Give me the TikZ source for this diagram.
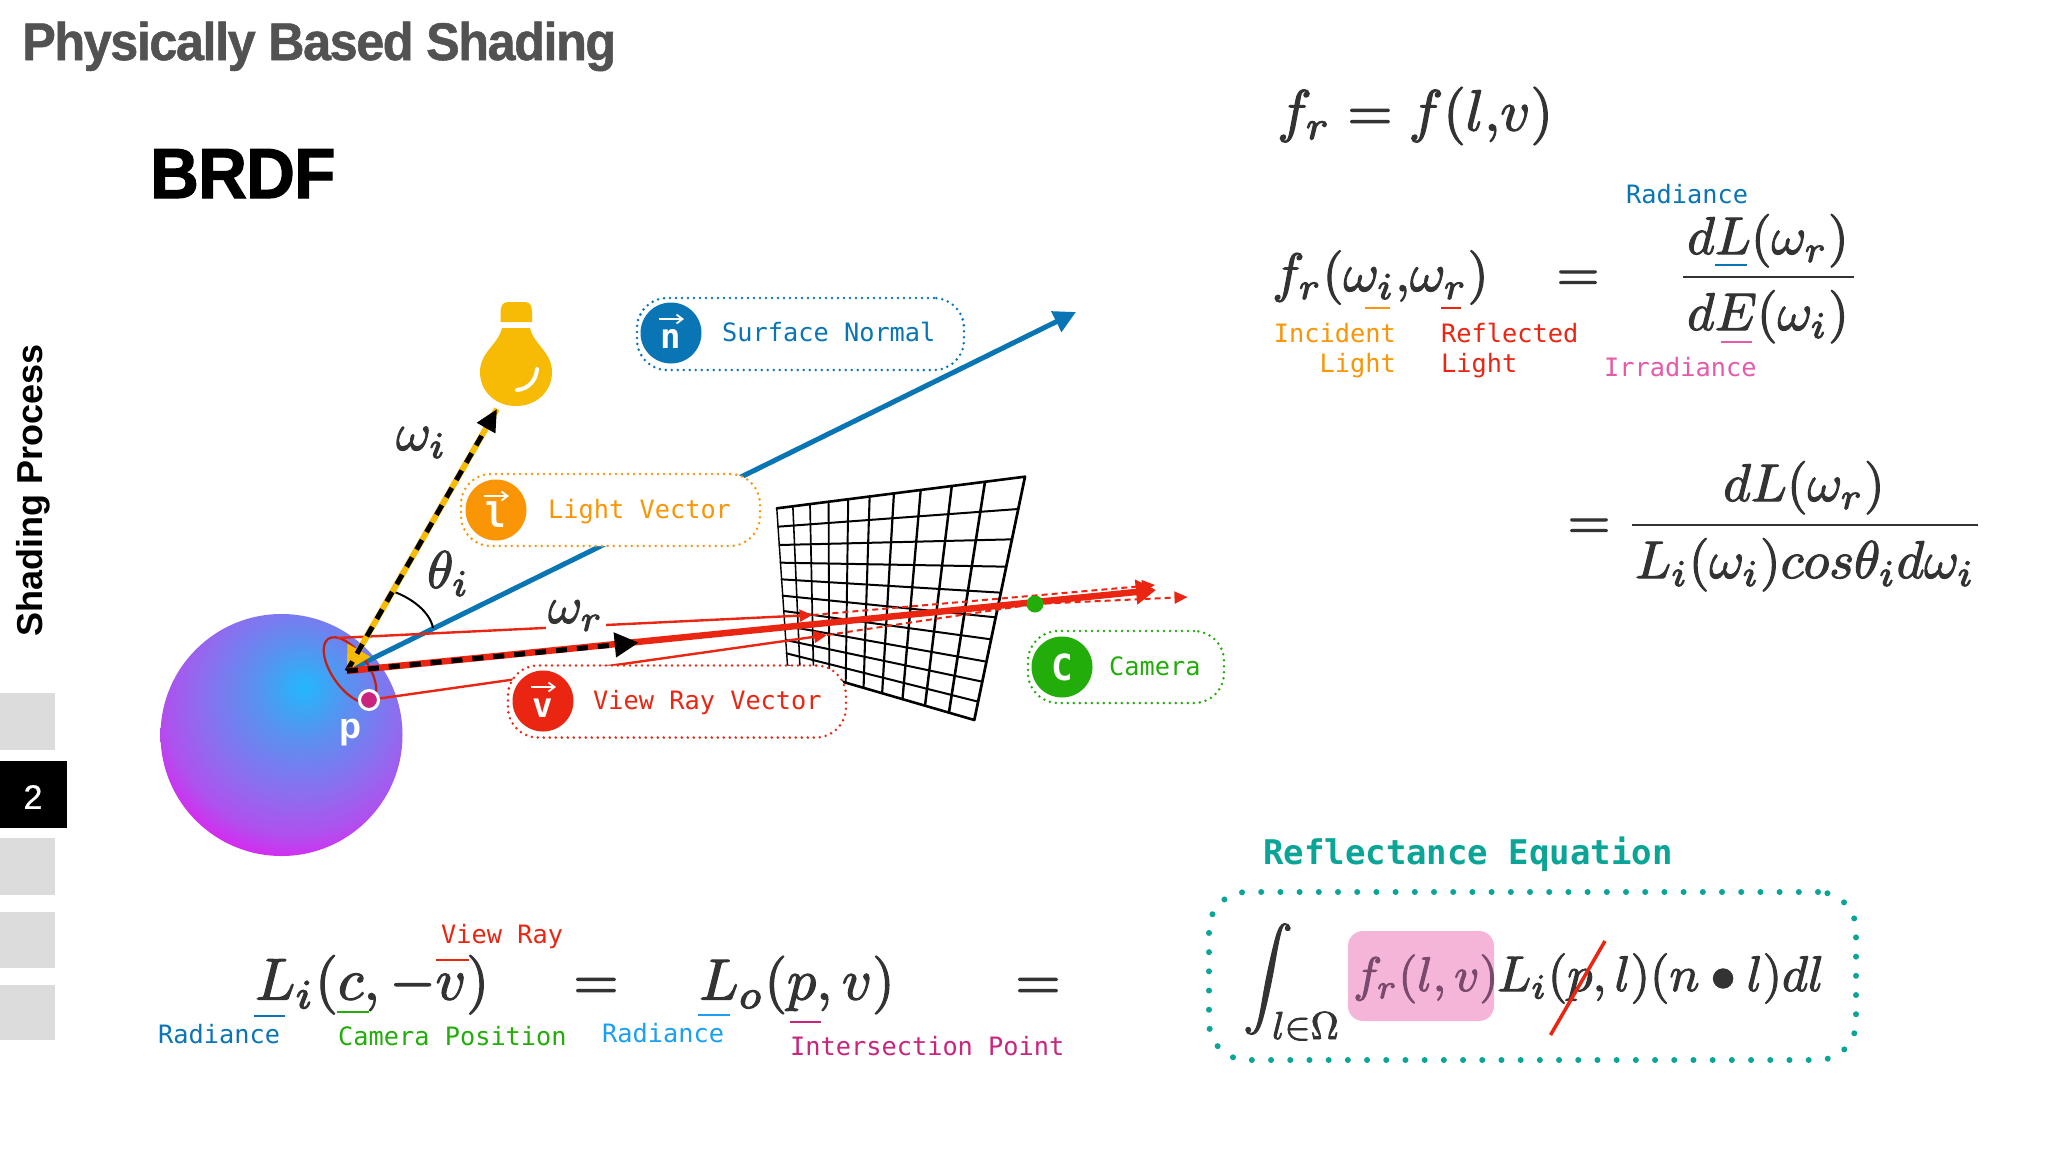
\documentclass[tikz,border=0pt]{standalone}
\usepackage{fontspec}
\usepackage{graphicx}
\usetikzlibrary{arrows.meta,calc}
\newfontfamily\monof{DejaVu Sans Mono}
\newfontfamily\headf[FakeStretch=0.95,LetterSpace=-2.7,BoldFeatures={FakeBold=1.0}]{Liberation Sans}
\newfontfamily\brdff[FakeStretch=0.95,LetterSpace=-1,BoldFeatures={FakeBold=1.6}]{Liberation Sans}
\newfontfamily\sidef{Liberation Sans}
\definecolor{cblue}{HTML}{0A75B5}
\definecolor{cblueb}{HTML}{1AA0F0}
\definecolor{corange}{HTML}{FA9505}
\definecolor{cred}{HTML}{EA2512}
\definecolor{cgreen}{HTML}{22AD0A}
\definecolor{cmag}{HTML}{C9257F}
\definecolor{cpink}{HTML}{E65AA8}
\definecolor{cteal}{HTML}{0AA596}
\definecolor{cyellow}{HTML}{F7BB05}
\definecolor{cmath}{HTML}{333333}
\definecolor{cside}{HTML}{DCDCDC}
\definecolor{cfrr}{HTML}{7A4A6E}
\definecolor{bA}{HTML}{22B8FA}
\definecolor{bB}{HTML}{5B90F0}
\definecolor{bC}{HTML}{8F6CEE}
\definecolor{bD}{HTML}{B050EE}
\definecolor{bE}{HTML}{E020F0}
\pgfdeclareradialshading{ballsh}{\pgfpoint{4.65bp}{10.1bp}}{color(0bp)=(bA); color(10bp)=(bB); color(21bp)=(bC); color(28bp)=(bD); color(34bp)=(bE); color(100bp)=(bE)}
\newcommand{\mth}[2]{\scalebox{#1}{\special{pdf:code 2 Tr 0.2 w}$\displaystyle #2$\special{pdf:code 0 Tr}}}
\tikzset{
  lbl/.style={inner sep=0pt,anchor=base west,font=\monof\fontsize{25.3}{30}\selectfont},
  mnode/.style={inner sep=0pt,anchor=base west,text=cmath},
  mcen/.style={inner sep=0pt,anchor=base,text=cmath},
  pillbox/.style={draw=#1,fill=white,rounded corners=30pt,line width=2.8pt,line cap=round,dash pattern=on 0pt off 6pt,inner sep=0pt,minimum height=72pt},
  badge/.style={circle,fill=#1,inner sep=0pt,minimum size=61pt,text=white,font=\monof\bfseries\fontsize{34}{36}\selectfont},
  ul/.style={draw=#1,line width=2.4pt},
  sidebox/.style={fill=cside,inner sep=0pt,anchor=north west,minimum width=55pt},
  barline/.style={draw=cmath,line width=2.6pt},
  vecarrow/.style={draw=white,line width=1.8pt,-{Straight Barb[length=6pt,width=9pt]}},
  gridline/.style={draw=black,line width=#1}
}
\begin{document}
\begin{tikzpicture}[x=1pt,y=-1pt]
\useasboundingbox (0,0) rectangle (2048,1152);
\fill[white] (0,0) rectangle (2048,1152);

% titles
\node[inner sep=0pt,anchor=base west,text=black!68] (title) at (22,60) {\headf\bfseries\fontsize{53}{60}\selectfont Physically Based Shading};
\node[inner sep=0pt,anchor=base west,text=black] (brdf) at (150,198) {\brdff\bfseries\fontsize{71}{80}\selectfont BRDF};
\node[inner sep=0pt,rotate=90,text=black] (side) at (33,490) {\sidef\bfseries\fontsize{36}{40}\selectfont Shading Process};

% sidebar
\node[sidebox,minimum height=57pt] (s1) at (0,693) {};
\node[fill=black,inner sep=0pt,anchor=north west,minimum width=67pt,minimum height=67pt] (s2) at (0,761) {};
\node[inner sep=0pt,text=white,font=\sidef\addfontfeatures{FakeBold=0.6}\fontsize{34}{40}\selectfont] (s2t) at (33,797) {2};
\node[sidebox,minimum height=57pt] (s3) at (0,838) {};
\node[sidebox,minimum height=56pt] (s4) at (0,912) {};
\node[sidebox,minimum height=55pt] (s5) at (0,985) {};

% sphere
\shade[shading=ballsh] (281.5,735) circle [radius=121pt];

% named points
\coordinate (P) at (347,671);
\coordinate (LT) at (497,409);
\coordinate (NT) at (1076,312);
\coordinate (D) at (1035,604);
\coordinate (VT) at (1156,590);
\coordinate (VB) at ($(P)!0.424!(D)$);
\coordinate (C) at (350,670);
\coordinate (Pt) at (369,700);
\coordinate (Ct) at (337,638);
\coordinate (A1) at (812.5,615);
\coordinate (A2) at (827,635);
\coordinate (E1) at (1155,585);
\coordinate (E2) at (1187.5,597);

% grid
\foreach \t/\b [count=\i] in {215/245,260/280,308/318,360/362,415/408,475/458,543/510,618/567,705/630,798/697,910/768}{
  \pgfmathsetmacro{\xa}{700+\t/2.8}
  \pgfmathsetmacro{\ya}{280+(685-0.13669*(\t-215))/3}
  \pgfmathsetmacro{\xb}{700+\b/2.8}
  \pgfmathsetmacro{\yb}{280+(1157+0.31166*(\b-245))/3}
  \pgfmathsetmacro{\lw}{1.3+0.13*\i}
  \draw[gridline=\lw pt,line cap=round] (\xa,\ya) -- (\xb,\yb);
}
\foreach \l/\r [count=\i] in {685/590,740/687,795/778,848/860,898/938,947/1012,993/1078,1037/1145,1080/1205,1120/1265,1157/1320}{
  \pgfmathsetmacro{\xa}{700+(215+0.06237*(\l-685))/2.8}
  \pgfmathsetmacro{\ya}{280+\l/3}
  \pgfmathsetmacro{\xb}{700+(910-0.19452*(\r-590))/2.8}
  \pgfmathsetmacro{\yb}{280+\r/3}
  \pgfmathsetmacro{\lw}{ifthenelse(\i==1 || \i==11,2.6,2.0)}
  \draw[gridline=\lw pt,line cap=round] (\xa,\ya) -- (\xb,\yb);
}

% surface normal pill, then normal vector
\node[pillbox=cblue,minimum width=327pt] (pn) at (800.5,334) {};
\draw[draw=cblue,line width=5pt,-{Triangle[length=22pt,width=22pt]}] (P) -- (NT);

% thin rays
\draw[draw=cred!85!black,line width=2.2pt,rotate around={-55:(C)}] (C) ellipse [x radius=38pt,y radius=18pt];
\draw[draw=cred,line width=2.4pt,-{Triangle[length=13pt,width=12pt]}] (Ct) -- (A1);
\draw[draw=cred,line width=2.4pt,-{Triangle[length=13pt,width=12pt]}] (Pt) -- (A2);
\draw[draw=cred,line width=2pt,dash pattern=on 6pt off 4pt,-{Triangle[length=13pt,width=12pt]}] (A1) -- (E1);
\draw[draw=cred,line width=2pt,dash pattern=on 6pt off 4pt,-{Triangle[length=13pt,width=12pt]}] (A2) -- (D) -- (E2);

% light pill
\node[pillbox=corange,minimum width=299pt] (pl) at (610.5,510) {};

% theta arc
\coordinate (tha) at (392,591);
\coordinate (thb) at (433,628);
\draw[draw=black,line width=2pt] (tha) .. controls (412,598) and (430,612) .. (thb);

% light vector
\draw[draw=cyellow,line width=6pt,{Triangle[length=24pt,width=25pt]}-] (P) -- (LT);
\draw[draw=black,line width=5pt,dash pattern=on 11pt off 9pt,-{Triangle[length=22pt,width=20pt]}] (P) -- (LT);

% view vector
\draw[draw=cred,line width=6.5pt,-{Triangle[length=20pt,width=24pt]}] (P) -- (VT);
\draw[draw=black,line width=5pt,dash pattern=on 11pt off 10pt,-{Triangle[length=24pt,width=24pt]}] (P) -- (VB);
\node[circle,fill=cgreen,inner sep=0pt,minimum size=17pt] (dot) at (D) {};

% view and camera pills
\node[pillbox=cred,minimum width=338pt] (pv) at (677,701.5) {};
\node[pillbox=cgreen,minimum width=196pt] (pc) at (1126,667) {};

% badges
\node[badge=cblue] (bn) at (671,333) {};
\node[inner sep=0pt,anchor=base,text=white,font=\monof\bfseries\fontsize{34}{36}\selectfont] (bnt) at (671,348) {n};
\coordinate (nL) at (659,319); \coordinate (nR) at (684,319);
\draw[vecarrow] (nL) -- (nR);
\node[badge=corange] (bl) at (496,510) {};
\node[inner sep=0pt,anchor=base,text=white,font=\monof\bfseries\fontsize{34}{36}\selectfont] (blt) at (496,527) {l};
\coordinate (lL) at (484,496); \coordinate (lR) at (509,496);
\draw[vecarrow] (lL) -- (lR);
\node[badge=cred] (bv) at (543,701) {};
\node[inner sep=0pt,anchor=base,text=white,font=\monof\bfseries\fontsize{34}{36}\selectfont] (bvt) at (543,717) {v};
\coordinate (vL) at (531,687); \coordinate (vR) at (556,687);
\draw[vecarrow] (vL) -- (vR);
\node[badge=cgreen] (bc) at (1062,667) {};
\node[inner sep=0pt,anchor=base,text=white,font=\monof\bfseries\fontsize{36}{38}\selectfont] (bct) at (1062,680) {C};

% pill labels
\node[lbl,text=cblue] (tn) at (722,341) {Surface Normal};
\node[lbl,text=corange] (tl) at (548,518) {Light Vector};
\node[lbl,text=cred] (tv) at (593,709) {View Ray Vector};
\node[lbl,text=cgreen] (tc) at (1109,675) {Camera};

% point p
\node[circle,fill=cmag,draw=white,line width=3pt,inner sep=0pt,minimum size=19pt] (pdot) at (Pt) {};
\node[inner sep=0pt,anchor=base,text=white,font=\sidef\bfseries\fontsize{36}{38}\selectfont] (pl2) at (350,738) {p};

% bulb
\fill[cyellow] (500.5,322) -- (500.5,312) .. controls (500.5,306) and (503,302) .. (508,302) -- (525,302) .. controls (530,302) and (532,306) .. (532,312) -- (532,322) -- cycle;
\fill[cyellow] (502,328) .. controls (498,345) and (480,352) .. (480,372) .. controls (480,392) and (496,406) .. (516,406) .. controls (536,406) and (552,392) .. (552,372) .. controls (552,352) and (534,345) .. (530,328) -- cycle;
\draw[draw=white,line width=4pt,line cap=round] (537,369) .. controls (536,381) and (528,389) .. (517,390);

% vector labels
\node[mnode] (wi) at (396,450) {\mth{5.3}{\omega_i}};
\node[mnode] (thi) at (427,588) {\mth{5.3}{\theta_i}};
\node[mnode,fill=white,inner sep=2pt] (wr) at (546,623) {\mth{5.2}{\omega_r}};

% upper right equations
\node[mnode] (e1) at (1277,130.5) {\mth{5.8}{f_r = f(l{,}v)}};
\node[mnode] (e2) at (1272,291) {\mth{5.4}{f_r(\omega_i{,}\omega_r)}};
\node[mcen] (eq2) at (1578,291) {\mth{5.5}{=}};
\node[mcen] (n1) at (1768,254) {\mth{5.3}{dL(\omega_r)}};
\node[mcen] (d1) at (1768,330) {\mth{5.3}{dE(\omega_i)}};
\coordinate (b1a) at (1683,277); \coordinate (b1b) at (1854,277);
\draw[barline] (b1a) -- (b1b);
\node[mcen] (eq3) at (1589,539) {\mth{5.5}{=}};
\node[mcen] (n2) at (1804,501) {\mth{5.3}{dL(\omega_r)}};
\node[mcen] (d2) at (1805,578) {\mth{5.3}{L_i(\omega_i)cos\theta_i d\omega_i}};
\coordinate (b2a) at (1631.5,525); \coordinate (b2b) at (1978,525);
\draw[barline] (b2a) -- (b2b);

\node[lbl,text=cblue] (r1) at (1626,203) {Radiance};
\node[lbl,text=corange,anchor=base east] (inc) at (1396,342) {Incident};
\node[lbl,text=corange,anchor=base east] (incl) at (1396,372) {Light};
\node[lbl,text=cred] (ref) at (1441,342) {Reflected};
\node[lbl,text=cred] (refl) at (1441,372) {Light};
\node[lbl,text=cpink] (irr) at (1604,376) {Irradiance};

\coordinate (u1a) at (1365,308); \coordinate (u1b) at (1390,308);
\coordinate (u2a) at (1441,308); \coordinate (u2b) at (1461,308);
\coordinate (u3a) at (1715,265); \coordinate (u3b) at (1747,265);
\coordinate (u4a) at (1721,342); \coordinate (u4b) at (1752,342);
\draw[ul=corange] (u1a) -- (u1b);
\draw[ul=cred] (u2a) -- (u2b);
\draw[ul=cblue] (u3a) -- (u3b);
\draw[ul=cpink] (u4a) -- (u4b);

% bottom equations
\node[mnode] (e3) at (255,999.5) {\mth{5.9}{L_i(c,-v)}};
\node[mcen] (eq4) at (596,999.5) {\mth{5.8}{=}};
\node[mnode] (e4) at (699,999.5) {\mth{5.8}{L_o(p,v)}};
\node[mcen] (eq5) at (1038,999.5) {\mth{5.8}{=}};
\coordinate (u5a) at (254,1016); \coordinate (u5b) at (285,1016);
\coordinate (u6a) at (337,1012); \coordinate (u6b) at (369,1012);
\coordinate (u7a) at (436,960); \coordinate (u7b) at (469,960);
\coordinate (u8a) at (698,1015); \coordinate (u8b) at (730,1015);
\coordinate (u9a) at (790,1022); \coordinate (u9b) at (821,1022);
\draw[ul=cblue] (u5a) -- (u5b);
\draw[ul=cgreen] (u6a) -- (u6b);
\draw[ul=cred] (u7a) -- (u7b);
\draw[ul=cblueb] (u8a) -- (u8b);
\draw[ul=cmag] (u9a) -- (u9b);
\node[lbl,text=cred] (vr) at (441,943) {View Ray};
\node[lbl,text=cblue] (r2) at (158,1043) {Radiance};
\node[lbl,text=cgreen] (cp) at (338,1045) {Camera Position};
\node[lbl,text=cblueb] (r3) at (602,1042) {Radiance};
\node[lbl,text=cmag] (ip) at (790,1055) {Intersection Point};

% reflectance
\node[lbl,text=cteal,font=\monof\bfseries\fontsize{34}{38}\selectfont] (rt) at (1263,864) {Reflectance Equation};
\node[draw=cteal,rounded corners=38pt,line width=6pt,line cap=round,dash pattern=on 0pt off 19.2pt,inner sep=0pt,minimum width=647pt,minimum height=168pt] (rb) at (1532.5,976) {};
\node[fill=cpink!45!white,rounded corners=15pt,inner sep=0pt,minimum width=146pt,minimum height=90pt] (hl) at (1421,976) {};
\node[mcen,anchor=center] (int) at (1268,979) {\mth{5}{\int}};
\node[mnode] (sb) at (1272,1039) {\mth{3.9}{l{\in}\Omega}};
\node[mnode,text=cfrr] (frr) at (1353,991) {\mth{4.85}{f_r(l,v)}};
\node[mnode] (lr) at (1497,991) {\mth{5}{L_i(p,l)(n\bullet l)dl}};
\coordinate (sa) at (1550.5,1035); \coordinate (sb2) at (1605,941);
\draw[draw=cred,line width=3.5pt] (sa) -- (sb2);
\end{tikzpicture}
\end{document}
